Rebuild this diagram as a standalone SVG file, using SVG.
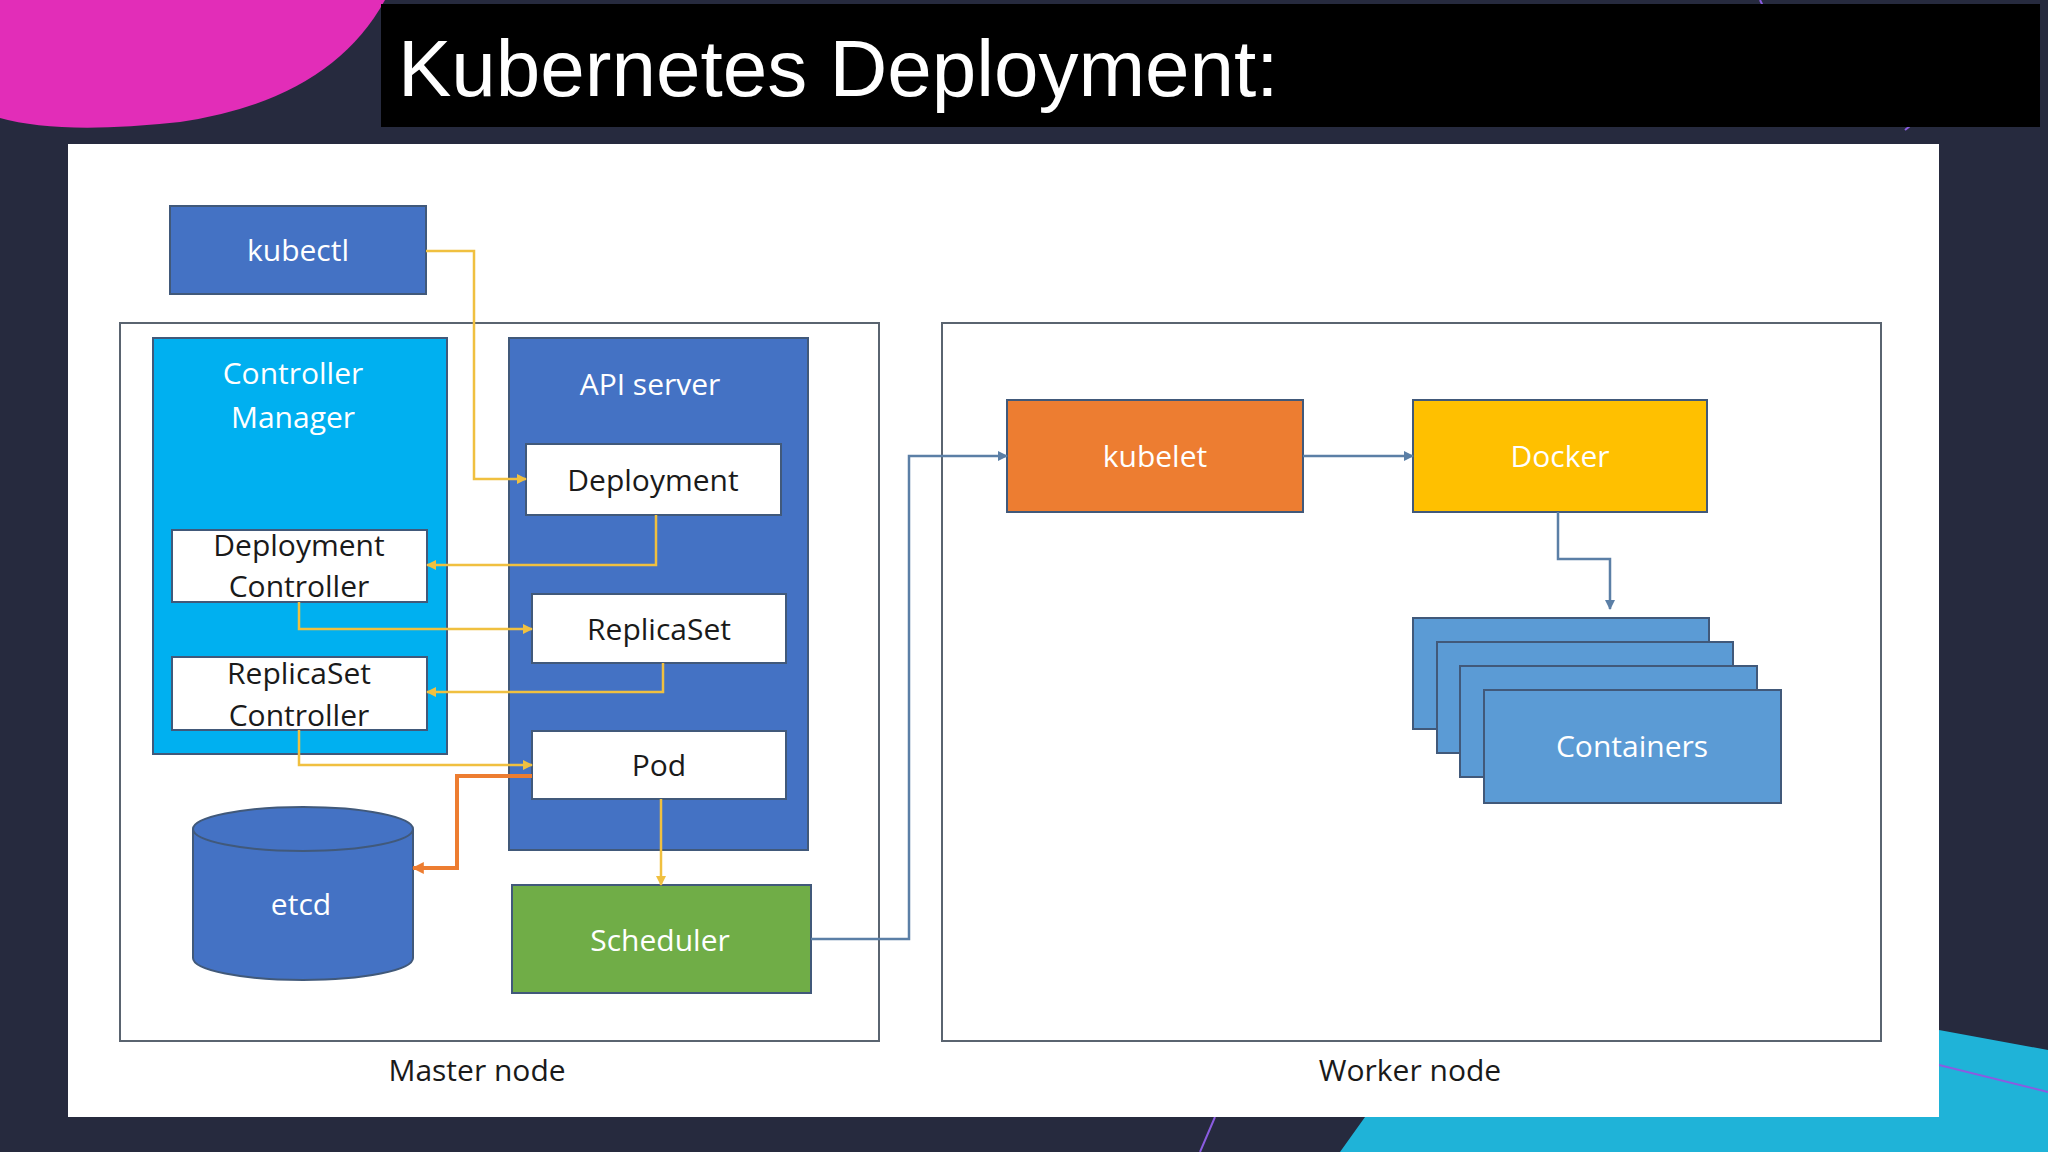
<svg xmlns="http://www.w3.org/2000/svg" width="2048" height="1152" viewBox="0 0 2048 1152">
<defs>
<style>
text{font-family:"Open Sans","Liberation Sans",sans-serif;font-size:30px;text-anchor:middle}
.w{fill:#fff}.k{fill:#1a1a1a}
.box{stroke:#41597a;stroke-width:2}
.y{fill:none;stroke:#f0c040;stroke-width:2.5}
.b{fill:none;stroke:#5b7fa6;stroke-width:2.5}
.wh{fill:#fff;stroke:#41597a;stroke-width:2}
</style>
<marker id="ay" viewBox="0 0 10 10" refX="9" refY="5" markerWidth="4" markerHeight="4" orient="auto"><path d="M0,0L10,5L0,10z" fill="#f0c040"/></marker>
<marker id="ab" viewBox="0 0 10 10" refX="9" refY="5" markerWidth="4" markerHeight="4" orient="auto"><path d="M0,0L10,5L0,10z" fill="#5b7fa6"/></marker>
<marker id="ao" viewBox="0 0 10 10" refX="9" refY="5" markerWidth="3" markerHeight="3" orient="auto"><path d="M0,0L10,5L0,10z" fill="#ed7d31"/></marker>
</defs>
<rect width="2048" height="1152" fill="#262a3e"/>
<path d="M0,0H385Q330,100 180,122Q60,135 0,118Z" fill="#e22db8"/>
<path d="M1340,1152L1370,1110H1939V1030L2048,1050V1152Z" fill="#1fb3d8"/>
<path d="M1200,1152L1215,1117M1939,1065L2048,1092M1760,0L1790,60M1905,130L1930,110" stroke="#8a5ce0" stroke-width="2"/>
<rect x="381" y="4" width="1659" height="123" fill="#000"/>
<text x="398" y="96" style="font-family:'Liberation Sans',sans-serif;font-size:80px;text-anchor:start" class="w">Kubernetes Deployment:</text>
<rect x="68" y="144" width="1871" height="973" fill="#fff"/>
<g id="master"><rect x="120" y="323" width="759" height="718" fill="none" stroke="#5a6470" stroke-width="2"/><text x="477" y="1081" class="k">Master node</text></g>
<g id="worker"><rect x="942" y="323" width="939" height="718" fill="none" stroke="#5a6470" stroke-width="2"/><text x="1410" y="1081" class="k">Worker node</text></g>
<g id="kubectl"><rect x="170" y="206" width="256" height="88" fill="#4472c4" class="box"/><text x="298" y="261" class="w">kubectl</text></g>
<g id="cm"><rect x="153" y="338" width="294" height="416" fill="#00b0f0" class="box"/><text x="293" y="384" class="w">Controller</text><text x="293" y="428" class="w">Manager</text></g>
<g id="api"><rect x="509" y="338" width="299" height="512" fill="#4472c4" class="box"/><text x="650" y="395" class="w">API server</text></g>
<g id="dep"><rect x="526" y="444" width="255" height="71" class="wh"/><text x="653" y="491" class="k">Deployment</text></g>
<g id="rs"><rect x="532" y="594" width="254" height="69" class="wh"/><text x="659" y="640" class="k">ReplicaSet</text></g>
<g id="pod"><rect x="532" y="731" width="254" height="68" class="wh"/><text x="659" y="776" class="k">Pod</text></g>
<g id="dc"><rect x="172" y="530" width="255" height="72" class="wh"/><text x="299" y="556" class="k">Deployment</text><text x="299" y="597" class="k">Controller</text></g>
<g id="rsc"><rect x="172" y="657" width="255" height="73" class="wh"/><text x="299" y="684" class="k">ReplicaSet</text><text x="299" y="726" class="k">Controller</text></g>
<g id="etcd"><path d="M193,829V958A110,22 0 0 0 413,958V829" fill="#4472c4" class="box"/><ellipse cx="303" cy="829" rx="110" ry="22" fill="#4472c4" class="box"/><text x="301" y="915" class="w">etcd</text></g>
<g id="sched"><rect x="512" y="885" width="299" height="108" fill="#70ad47" class="box"/><text x="660" y="951" class="w">Scheduler</text></g>
<g id="kubelet"><rect x="1007" y="400" width="296" height="112" fill="#ed7d31" class="box"/><text x="1155" y="467" class="w">kubelet</text></g>
<g id="docker"><rect x="1413" y="400" width="294" height="112" fill="#ffc000" class="box"/><text x="1560" y="467" class="w">Docker</text></g>
<g id="containers">
<rect x="1413" y="618" width="296" height="111" fill="#5b9bd5" class="box"/>
<rect x="1437" y="642" width="296" height="111" fill="#5b9bd5" class="box"/>
<rect x="1460" y="666" width="297" height="111" fill="#5b9bd5" class="box"/>
<rect x="1484" y="690" width="297" height="113" fill="#5b9bd5" class="box"/>
<text x="1632" y="757" class="w">Containers</text></g>
<g id="connectors">
<path class="y" d="M426,251H474V479H526" marker-end="url(#ay)"/>
<path class="y" d="M656,515V565H427" marker-end="url(#ay)"/>
<path class="y" d="M299,602V629H532" marker-end="url(#ay)"/>
<path class="y" d="M663,663V692H427" marker-end="url(#ay)"/>
<path class="y" d="M299,730V765H532" marker-end="url(#ay)"/>
<path class="y" d="M661,799V885" marker-end="url(#ay)"/>
<path d="M532,776H457V868H413" fill="none" stroke="#ed7d31" stroke-width="4" marker-end="url(#ao)"/>
<path class="b" d="M811,939H909V456H1007" marker-end="url(#ab)"/>
<path class="b" d="M1303,456H1413" marker-end="url(#ab)"/>
<path class="b" d="M1558,512V559H1610V609" marker-end="url(#ab)"/>
</g>
</svg>
